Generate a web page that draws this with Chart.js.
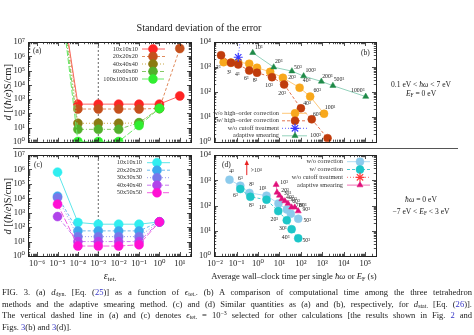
<!DOCTYPE html>
<html><head><meta charset="utf-8">
<script src="https://cdn.jsdelivr.net/npm/chart.js@4.4.1/dist/chart.umd.min.js"></script>
<style>
html,body{margin:0;padding:0;background:#fff}
body{width:474px;height:335px;position:relative;overflow:hidden;font-family:'Liberation Serif','DejaVu Serif',serif;color:#1a1a1a}
canvas{position:absolute}
.t{position:absolute;white-space:nowrap;line-height:1}
.c{text-align:center}
sub{font-size:70%;vertical-align:-0.25em;line-height:0}
sup{font-size:70%;vertical-align:0.45em;line-height:0}
.cap{position:absolute;left:2px;width:470px;font-size:8.55px;line-height:10px;text-align:justify;text-align-last:justify}
.b{color:#3535c8}
.yt{position:absolute;width:120px;text-align:center;transform:rotate(-90deg);white-space:nowrap;line-height:1;font-size:10.5px}
</style></head><body>
<canvas id="ca" width="200" height="120" style="left:0;top:30px"></canvas>
<canvas id="cb" width="200" height="120" style="left:190px;top:30px"></canvas>
<canvas id="cc" width="200" height="145" style="left:0;top:145px"></canvas>
<canvas id="cd" width="200" height="145" style="left:190px;top:145px"></canvas>

<div class="t c" style="left:99px;width:200px;top:23px;font-size:10.2px">Standard deviation of the error</div>
<div style="position:absolute;left:13px;top:148px;width:445px;height:1px;background:#555"></div>

<div class="t" style="left:33px;top:47px;font-size:7.5px">(a)</div>
<div class="t" style="left:361px;top:49px;font-size:7.5px">(b)</div>
<div class="t" style="left:34px;top:161px;font-size:7.5px">(c)</div>
<div class="t" style="left:222px;top:161px;font-size:7.5px">(d)</div>

<div class="yt" style="left:-52px;top:87px"><i>d</i> [(<i>ħ</i>/<i>e</i>)S/cm]</div>
<div class="yt" style="left:-52px;top:201px"><i>d</i> [(<i>ħ</i>/<i>e</i>)S/cm]</div>
<div class="t c" style="left:60px;width:100px;top:271px;font-size:10px"><i>ε</i><sub>tet.</sub></div>
<div class="t c" style="left:194px;width:200px;top:272px;font-size:8.6px">Average wall–clock time per single <i>ħω</i> or <i>E</i><sub>F</sub> (s)</div>

<div class="t c" style="left:381px;width:80px;top:81px;font-size:7.6px">0.1 eV &lt; <i>ħω</i> &lt; 7 eV</div>
<div class="t c" style="left:381px;width:80px;top:90px;font-size:7.6px"><i>E</i><sub>F</sub> = 0 eV</div>
<div class="t c" style="left:381px;width:80px;top:196px;font-size:7.6px"><i>ħω</i> = 0 eV</div>
<div class="t c" style="left:381px;width:80px;top:208px;font-size:7.6px">−7 eV &lt; <i>E</i><sub>F</sub> &lt; 3 eV</div>

<div class="cap" style="top:287px">FIG. 3. (a) <i>d</i><sub>dyn.</sub> [Eq. (<span class="b">25</span>)] as a function of <i>ϵ</i><sub>tet.</sub>. (b) A comparison of computational time among the three tetrahedron</div>
<div class="cap" style="top:299px">methods and the adaptive smearing method. (c) and (d) Similar quantities as (a) and (b), respectively, for <i>d</i><sub>stat.</sub> [Eq. (<span class="b">26</span>)].</div>
<div class="cap" style="top:310px">The vertical dashed line in (a) and (c) denotes <i>ϵ</i><sub>tet.</sub> = 10<sup>−3</sup> selected for other calculations [the results shown in Fig. <span class="b">2</span> and</div>
<div class="cap" style="top:322px;text-align-last:left">Figs. <span class="b">3</span>(b) and <span class="b">3</span>(d)].</div>

<script>
// ---------------- DATA ----------------
// axis ticks
const epsTicks = [1e-6, 1e-5, 1e-4, 1e-3, 1e-2, 1e-1, 1e0, 1e1];
const epsTickLabels = ['10⁻⁶','10⁻⁵','10⁻⁴','10⁻³','10⁻²','10⁻¹','10⁰','10¹'];
const devTicksAC = [1e0, 1e1, 1e2, 1e3, 1e4, 1e5, 1e6, 1e7];
const devTickLabelsAC = ['10⁰','10¹','10²','10³','10⁴','10⁵','10⁶','10⁷'];
const timeTicks = [1e-2, 1e-1, 1e0, 1e1, 1e2, 1e3, 1e4, 1e5];
const timeTickLabels = ['10⁻²','10⁻¹','10⁰','10¹','10²','10³','10⁴','10⁵'];
const devTicksBD = [1e0, 1e1, 1e2, 1e3, 1e4];
const devTickLabelsBD = ['10⁰','10¹','10²','10³','10⁴'];

// (a) d_dyn vs eps_tet
const epsA = [1e-5, 1e-4, 1e-3, 1e-2, 1e-1, 1e0, 1e1];
const gridsA = ['10x10x10','20x20x20','40x40x40','60x60x60','100x100x100'];
const dynA10  = [1e12, 440, 440, 440, 440, 440, 1650];
const dynA20  = [1e12, 200, 200, 200, 200, 220, 3.5e6];
const dynA40  = [1e12, 20, 20, 20, 21, 220, null];
const dynA60  = [1e12, 7.5, 7.5, 7.5, 22, 220, null];
const dynA100 = [1e12, 1.05, 1.05, 1.05, 14, 220, null];
const selectedEps = 1e-3;

// (c) d_stat vs eps_tet
const epsC = [1e-5, 1e-4, 1e-3, 1e-2, 1e-1, 1e0];
const gridsC = ['10x10x10','20x20x20','30x30x30','40x40x40','50x50x50'];
const statC10 = [6.5e5, 210, 160, 160, 160, 230];
const statC20 = [1.4e4, 55, 55, 55, 55, 230];
const statC30 = [1.1e4, 22, 22, 22, 22, 230];
const statC40 = [540, 10, 10, 10, 10, 230];
const statC50 = [3900, 4.9, 4.9, 4.9, 6, 230];

// (b) time vs d_dyn
const seriesB = ['w/o high–order correction','w/ high–order correction','w/o cutoff treatment','adaptive smearing'];
const sizesB = ['2³','3³','4³','6³','8³','10³','20³','40³','60³','100³'];
const timeBwo = [0.025, 0.055, 0.12, 0.39, 0.9, 3.7, 14.5, 87, 270, 1200];
const devBwo  = [1550, 1500, 1550, 1350, 930, 640, 370, 148, 65, 13.4];
const timeBw  = [0.019, 0.055, 0.12, 0.39, 0.9, 4.5, 16.5, 100, 320, 1750];
const devBw   = [2950, 1470, 1260, 720, 590, 390, 200, 22, 8, 1.4];
const timeBcut = [0.12, 0.2];
const devBcut  = [2450, 1e5];
const sizesBad = ['10³','20³','50³','100³','200³','500³','1000³'];
const timeBad  = [0.57, 5.4, 38, 134, 900, 3100, 105000];
const devBad   = [3700, 980, 680, 430, 263, 178, 65];

// (d) time vs d_stat
const seriesD = ['w/o correction','w/ correction','w/o cutoff treatment','adaptive smearing'];
const sizesDwo = ['4³','6³','8³','10³','20³','30³','40³','50³'];
const timeDwo  = [0.047, 0.15, 0.4, 2.5, 9, 22, 34, 75];
const devDwo   = [1050, 610, 315, 245, 120, 70, 47, 30];
const sizesDw  = ['6³','8³','10³','20³','30³','40³','50³'];
const timeDw   = [0.15, 0.44, 2.5, 8.8, 22, 37, 75];
const devDw    = [450, 220, 170, 60, 26, 11.5, 5];
const sizesDad = ['10³','20³','30³','40³','50³','60³','70³','80³','90³'];
const timeDad  = [7, 7.7, 10, 13, 18, 25, 37, 52, 75];
const devDad   = [670, 330, 250, 180, 150, 120, 85, 85, 60];
const cutoffDTime = 0.3, cutoffDFrom = 1600, cutoffDTo = 6300, cutoffDLabel = '>10⁴';

// ---------------- HELPERS ----------------
const SERIF = "'Liberation Serif','DejaVu Serif',serif";
const xy = (xs, ys) => xs.map((x, i) => ({x, y: ys[i]})).filter(p => p.y != null);

function ds(label, xs, ys, color, lineColor, dash, style, radius, extra) {
  return Object.assign({
    label, data: xy(xs, ys), showLine: true,
    borderColor: lineColor, backgroundColor: color, borderWidth: 1, borderDash: dash,
    pointStyle: style, pointRadius: radius,
    pointBackgroundColor: color, pointBorderColor: color,
    pointBorderWidth: (style === 'star' || style === 'crossRot') ? 1.2 : 0.5
  }, extra || {});
}

function drawMarker(ctx, d, x, y) {
  ctx.save();
  ctx.fillStyle = d.pointBackgroundColor; ctx.strokeStyle = d.pointBorderColor;
  ctx.lineWidth = d.pointBorderWidth; ctx.setLineDash([]);
  if (Chart.helpers && Chart.helpers.drawPoint) {
    Chart.helpers.drawPoint(ctx, {pointStyle: d.pointStyle, radius: d.pointRadius, borderWidth: d.pointBorderWidth, rotation: 0}, x, y);
  } else {
    ctx.beginPath(); ctx.arc(x, y, d.pointRadius, 0, Math.PI * 2); ctx.fill();
  }
  ctx.restore();
}

const decoPlugin = {
  id: 'deco',
  beforeDatasetsDraw(chart, args, o) {
    const {ctx, chartArea: ca, scales: {x}} = chart;
    if (o.vline) {
      const px = x.getPixelForValue(o.vline);
      ctx.save(); ctx.strokeStyle = '#666'; ctx.lineWidth = 1; ctx.setLineDash([2, 2]);
      ctx.beginPath(); ctx.moveTo(px, ca.top); ctx.lineTo(px, ca.bottom); ctx.stroke(); ctx.restore();
    }
  },
  afterDatasetsDraw(chart, args, o) {
    const {ctx, chartArea: ca, scales: {x, y}} = chart;
    ctx.save();
    // point labels
    ctx.font = `5.8px ${SERIF}`; ctx.fillStyle = '#222'; ctx.textAlign = 'center'; ctx.textBaseline = 'middle';
    chart.data.datasets.forEach((d, di) => {
      if (!d.ptLabels) return;
      const meta = chart.getDatasetMeta(di);
      meta.data.forEach((el, i) => {
        const off = d.ptOffsets[i];
        if (!off || !d.ptLabels[i]) return;
        ctx.fillText(d.ptLabels[i], el.x + off[0], el.y + off[1]);
      });
    });
    // arrow
    if (o.arrow) {
      const ax = x.getPixelForValue(o.arrow.time);
      const y1 = y.getPixelForValue(o.arrow.from), y2 = y.getPixelForValue(o.arrow.to);
      ctx.strokeStyle = '#e82020'; ctx.fillStyle = '#e82020'; ctx.lineWidth = 1;
      ctx.beginPath(); ctx.moveTo(ax, y1); ctx.lineTo(ax, y2 + 3); ctx.stroke();
      ctx.beginPath(); ctx.moveTo(ax, y2); ctx.lineTo(ax - 2.2, y2 + 5); ctx.lineTo(ax + 2.2, y2 + 5); ctx.closePath(); ctx.fill();
      ctx.fillStyle = '#333'; ctx.textAlign = 'left'; ctx.font = `5.8px ${SERIF}`;
      ctx.fillText(o.arrow.label, ax + 4, (y1 + y2) / 2 + 3);
    }
    // minor/major ticks on all four sides
    ctx.strokeStyle = '#222'; ctx.lineWidth = 0.8; ctx.setLineDash([]);
    const ticksFor = (min, max) => {
      const out = [];
      for (let e = Math.floor(Math.log10(min)); e <= Math.ceil(Math.log10(max)); e++)
        for (let m = 1; m < 10; m++) { const v = m * Math.pow(10, e); if (v >= min * 0.9999 && v <= max * 1.0001) out.push([v, m === 1]); }
      return out;
    };
    ctx.beginPath();
    ticksFor(x.min, x.max).forEach(([v, maj]) => {
      const p = Math.round(x.getPixelForValue(v)) + 0.5, L = maj ? 4 : 2.2;
      ctx.moveTo(p, ca.bottom); ctx.lineTo(p, ca.bottom - L);
      ctx.moveTo(p, ca.top); ctx.lineTo(p, ca.top + L);
    });
    ticksFor(y.min, y.max).forEach(([v, maj]) => {
      const p = Math.round(y.getPixelForValue(v)) + 0.5, L = maj ? 4 : 2.2;
      ctx.moveTo(ca.left, p); ctx.lineTo(ca.left + L, p);
      ctx.moveTo(ca.right, p); ctx.lineTo(ca.right - L, p);
    });
    ctx.stroke();
    ctx.lineWidth = 1;
    ctx.strokeRect(Math.round(ca.left) + 0.5, Math.round(ca.top) + 0.5, Math.round(ca.right - ca.left), Math.round(ca.bottom - ca.top));
    // legend (text left of sample, gnuplot style)
    if (o.legend) {
      const L = o.legend;
      chart.data.datasets.forEach((d, i) => {
        const ly = ca.top + L.y0 + i * L.dy;
        ctx.font = `6.3px ${SERIF}`; ctx.fillStyle = '#333'; ctx.textAlign = 'right'; ctx.textBaseline = 'middle';
        ctx.fillText(d.label, ca.left + L.tr, ly);
        ctx.save(); ctx.strokeStyle = d.borderColor; ctx.lineWidth = 1; ctx.setLineDash(d.borderDash || []);
        ctx.beginPath(); ctx.moveTo(ca.left + L.s0, ly); ctx.lineTo(ca.left + L.s1, ly); ctx.stroke(); ctx.restore();
        drawMarker(ctx, d, ca.left + L.m, ly);
      });
    }
    ctx.restore();
  }
};

function makeChart(id, c) {
  c.datasets.forEach((d, i) => { d.order = -i; });
  const tickFont = {family: SERIF, size: 8.6};
  return new Chart(document.getElementById(id), {
    type: 'scatter',
    data: {datasets: c.datasets},
    options: {
      responsive: false, animation: false, devicePixelRatio: 1, events: [],
      layout: {padding: c.padding},
      plugins: {legend: {display: false}, tooltip: {enabled: false}, deco: c.deco},
      scales: {
        x: {type: 'logarithmic', min: c.xMin, max: c.xMax,
          grid: {display: false, drawTicks: false}, border: {display: false},
          afterBuildTicks: s => { s.ticks = c.xTicks.map(v => ({value: v})); },
          afterFit: s => { s.height = c.xH; },
          ticks: {display: c.showX, autoSkip: false, maxRotation: 0, padding: 3, color: '#222', font: tickFont,
            callback: (v, i) => c.xLabels[i]}},
        y: {type: 'logarithmic', min: c.yMin, max: c.yMax,
          grid: {display: false, drawTicks: false}, border: {display: false},
          afterBuildTicks: s => { s.ticks = c.yTicks.map(v => ({value: v})); },
          afterFit: s => { s.width = c.yW; },
          ticks: {autoSkip: false, padding: 3, color: '#222', font: tickFont,
            callback: (v, i) => c.yLabels[i]}}
      }
    },
    plugins: [decoPlugin]
  });
}

const epsMin = Math.pow(10, -6.45), epsMax = Math.pow(10, 1.55);
const timeMin = Math.pow(10, -2.05), timeMax = Math.pow(10, 5.5);

// (a)
makeChart('ca', {
  xMin: epsMin, xMax: epsMax, xTicks: epsTicks, xLabels: epsTickLabels, showX: false, xH: 0,
  yMin: 1, yMax: 1e7, yTicks: devTicksAC, yLabels: devTickLabelsAC, yW: 28,
  padding: {top: 12, right: 9, bottom: 8, left: 0},
  deco: {vline: selectedEps, legend: {tr: 110, s0: 114, s1: 137, m: 125, y0: 7, dy: 7.5}},
  datasets: [
    ds(gridsA[0], epsA, dynA10, '#ff2424', '#ff6060', [], 'circle', 4.5),
    ds(gridsA[1], epsA, dynA20, '#c4501c', '#e08a5c', [3, 2], 'circle', 4.5),
    ds(gridsA[2], epsA, dynA40, '#8a7a12', '#c8a848', [1, 2], 'circle', 4.5),
    ds(gridsA[3], epsA, dynA60, '#52b02c', '#84c866', [4, 2, 1, 2], 'circle', 4.5),
    ds(gridsA[4], epsA, dynA100, '#30ee30', '#66ea66', [6, 2], 'circle', 4.5)
  ]
});

// (c)
makeChart('cc', {
  xMin: epsMin, xMax: epsMax, xTicks: epsTicks, xLabels: epsTickLabels, showX: true, xH: 34,
  yMin: 1, yMax: 1e7, yTicks: devTicksAC, yLabels: devTickLabelsAC, yW: 28,
  padding: {top: 10, right: 9, bottom: 0, left: 0},
  deco: {vline: selectedEps, legend: {tr: 114, s0: 119, s1: 142, m: 129, y0: 7.7, dy: 7.5}},
  datasets: [
    ds(gridsC[0], epsC, statC10, '#30eef0', '#5ce6ea', [], 'circle', 4.5),
    ds(gridsC[1], epsC, statC20, '#3ca8ee', '#6cbcf0', [3, 2], 'circle', 4.5),
    ds(gridsC[2], epsC, statC30, '#7878ea', '#9a9aee', [1, 2], 'circle', 4.5),
    ds(gridsC[3], epsC, statC40, '#b044ea', '#c878ee', [4, 2, 1, 2], 'circle', 4.5),
    ds(gridsC[4], epsC, statC50, '#ff10d4', '#f060e0', [6, 2], 'circle', 4.5)
  ]
});

// (b)
makeChart('cb', {
  xMin: timeMin, xMax: timeMax, xTicks: timeTicks, xLabels: timeTickLabels, showX: false, xH: 0,
  yMin: 1, yMax: 1e4, yTicks: devTicksBD, yLabels: devTickLabelsBD, yW: 24,
  padding: {top: 12, right: 14, bottom: 8, left: 0},
  deco: {legend: {tr: 65, s0: 68, s1: 93, m: 81, y0: 71.3, dy: 7.5}},
  datasets: [
    ds(seriesB[0], timeBwo, devBwo, '#f8a81c', '#ffc878', [], 'circle', 4, {
      ptLabels: sizesB, ptOffsets: [null, null, null, null, null, null, [9, 0], [7, -7], [7, -6], [6, -6]]}),
    ds(seriesB[1], timeBw, devBw, '#c03c0c', '#e07450', [3, 2], 'circle', 4, {
      ptLabels: sizesB, ptOffsets: [[-3, 12], [-2, 10], [-1, 10], [-3, 8], [-2, 8], [-3, 8], [-2, 9], [6, -5], [5, -5], [-12, -3]]}),
    ds(seriesB[2], timeBcut, devBcut, '#3838ff', '#5a5aff', [1, 2], 'star', 4.5),
    ds(seriesB[3], timeBad, devBad, '#1f8a48', '#94d2bc', [], 'triangle', 3.5, {
      ptLabels: sizesBad, ptOffsets: [[6, -5], [5, -6], [6, -4], [7, -6], [6, -5], [6, -6], [-8, -6]]})
  ]
});

// (d)
makeChart('cd', {
  xMin: timeMin, xMax: timeMax, xTicks: timeTicks, xLabels: timeTickLabels, showX: true, xH: 34,
  yMin: 1, yMax: 1e4, yTicks: devTicksBD, yLabels: devTickLabelsBD, yW: 24,
  padding: {top: 10, right: 14, bottom: 0, left: 0},
  deco: {legend: {tr: 129, s0: 133, s1: 156, m: 146, y0: 6.7, dy: 7.8},
         arrow: {time: cutoffDTime, from: cutoffDFrom, to: cutoffDTo, label: cutoffDLabel}},
  datasets: [
    ds(seriesD[0], timeDwo, devDwo, '#8ccbec', '#b0dcf2', [], 'circle', 4, {
      ptLabels: sizesDwo, ptOffsets: [[2, -8], [0, -7], [2, -8], [-4, -7], null, null, null, [9, 2]]}),
    ds(seriesD[1], timeDw, devDw, '#1cc6c8', '#48cad2', [3, 2], 'circle', 4, {
      ptLabels: sizesDw, ptOffsets: [[-5, 6], [1, 9], [-4, 8], [-4, 8], [-4, 8], [-6, 8], [8, 2]]}),
    ds(seriesD[2], [], [], '#ff3a3a', '#ff6a6a', [1, 2], 'star', 4.5),
    ds(seriesD[3], timeDad, devDad, '#e0107a', '#f070b4', [], 'triangle', 3.5, {
      ptLabels: sizesDad, ptOffsets: sizesDad.map(() => [8, -2])})
  ]
});
</script>
</body></html>
